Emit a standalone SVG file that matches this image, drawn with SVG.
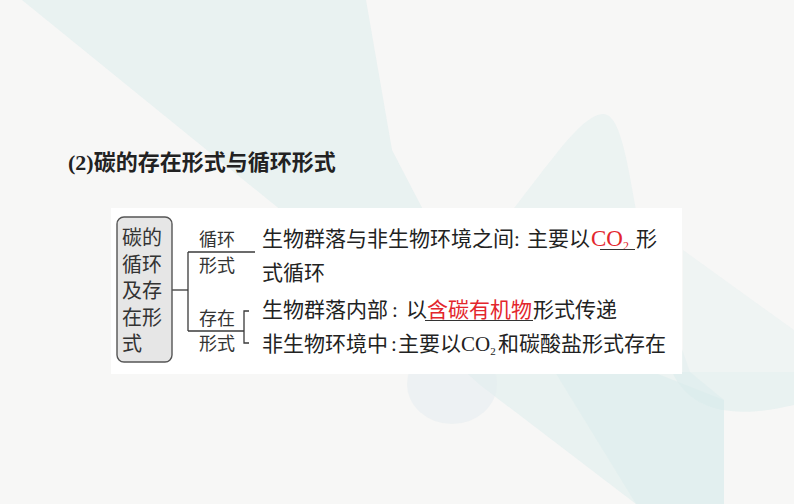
<svg xmlns="http://www.w3.org/2000/svg" width="794" height="504" viewBox="0 0 794 504">
  <style>
    .cjk { font-family: "Liberation Serif", "Noto Sans CJK SC", serif; fill: #222; }
    .title { font-size: 22px; font-weight: bold; }
    .box { font-size: 20px; fill: #333; }
    .lab { font-size: 18px; fill: #333; }
    .main { font-size: 21px; }
    .red { fill: #e3262d; }
    .conn { stroke: #3a3a3a; stroke-width: 1.3; fill: none; }
    .ul { stroke: #333; stroke-width: 1.2; }
    .bg { fill: #d6ecec; }
  </style>
  <!-- background -->
  <g id="background">
    <rect x="0" y="0" width="794" height="504" fill="#f7f7f6"/>
    <polygon class="bg" opacity="0.45" points="22,0 366,0 392,150 470,300 724,400 724,504 636,504 480,385 330,250"/>
    <path class="bg" opacity="0.35" d="M 480,250 C 540,180 575,118 602,114 C 622,112 628,170 640,230 L 690,372 L 724,400 L 724,504 L 636,504 Z"/>
    <path class="bg" opacity="0.45" d="M 672,372 C 690,410 730,420 794,405 L 794,372 Z"/>
    <ellipse cx="452" cy="384" rx="45" ry="40" fill="#e3ebf0" opacity="0.5"/>
    <polygon fill="#e4f0f0" opacity="0.45" points="683,250 794,330 794,372 683,372"/>
    <rect x="111" y="208" width="571" height="166" fill="#ffffff"/>
  </g>

  <g id="title">
    <text class="cjk title" x="68" y="170">(2)碳的存在形式与循环形式</text>
  </g>

  <g id="connectors">
    <line class="conn" x1="172" y1="290" x2="188" y2="290"/>
    <line class="conn" x1="188" y1="252" x2="188" y2="331"/>
    <line class="conn" x1="188" y1="252" x2="255" y2="252"/>
    <line class="conn" x1="188" y1="331" x2="244" y2="331"/>
    <polyline class="conn" points="249,311 244,311 244,343 249,343"/>
  </g>

  <g id="node-root">
    <rect x="117" y="217" width="55" height="145" rx="7" ry="7" fill="#e6e6e6" stroke="#555" stroke-width="1.4"/>
    <text class="cjk box" x="122" y="245">碳的</text>
    <text class="cjk box" x="122" y="271.5">循环</text>
    <text class="cjk box" x="122" y="298">及存</text>
    <text class="cjk box" x="122" y="324.5">在形</text>
    <text class="cjk box" x="122" y="351">式</text>
  </g>

  <g id="node-cycle">
    <text class="cjk lab" x="199" y="246">循环</text>
    <text class="cjk lab" x="199" y="272">形式</text>
  </g>

  <g id="node-exist">
    <text class="cjk lab" x="199" y="325">存在</text>
    <text class="cjk lab" x="199" y="350">形式</text>
  </g>

  <g id="node-cycle-text">
    <text class="cjk main" y="245.5"><tspan x="262">生物群落与非生物环境之间</tspan><tspan x="514">:</tspan><tspan x="527">主要以</tspan><tspan x="591" class="red" font-size="23">CO</tspan><tspan class="red" font-size="12" dy="4">2</tspan><tspan x="636" dy="-4">形</tspan></text>
    <line class="ul" x1="600" y1="249.5" x2="635" y2="249.5"/>
    <text class="cjk main" x="262" y="280">式循环</text>
  </g>

  <g id="node-exist-bio">
    <text class="cjk main" y="317"><tspan x="262">生物群落内部</tspan><tspan x="392">:</tspan><tspan x="406">以</tspan><tspan x="427" class="red">含碳有机物</tspan><tspan x="533">形式传递</tspan></text>
    <line class="ul" x1="425" y1="320.5" x2="533" y2="320.5"/>
  </g>

  <g id="node-exist-abio">
    <text class="cjk main" y="350.5"><tspan x="262">非生物环境中</tspan><tspan x="391">:</tspan><tspan x="398">主要以</tspan><tspan x="461">CO</tspan><tspan font-size="11" dy="4">2</tspan><tspan x="498" dy="-4">和碳酸盐形式存在</tspan></text>
  </g>
</svg>
